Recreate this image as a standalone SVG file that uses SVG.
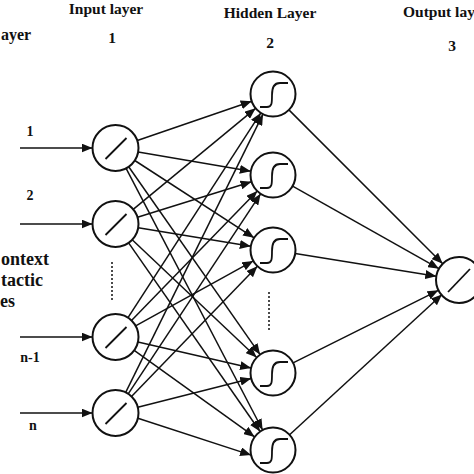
<svg xmlns="http://www.w3.org/2000/svg" width="474" height="474" viewBox="0 0 474 474">
<style>
text{font-family:"Liberation Serif","Times New Roman",serif;font-weight:bold;fill:#111}
.h{font-size:15.5px}
.lab{font-size:14px}
.ctx{font-size:18px}
.node circle{fill:#fff;stroke:#111;stroke-width:2}
.sym{fill:none;stroke:#111;stroke-width:1.8}
.c line{stroke:#111;stroke-width:1.5}
.dot{stroke:#111;stroke-width:1.5;stroke-dasharray:2,2}
</style>
<defs>
<marker id="ah" markerUnits="userSpaceOnUse" markerWidth="11" markerHeight="9" refX="11" refY="4.5" orient="auto">
<path d="M0,0 L11,4.5 L0,9 z" fill="#111"/>
</marker>
</defs>
<g id="headers">
<text class="h" x="1" y="40" style="font-size:16px">ayer</text>
<text class="h" x="106" y="14" text-anchor="middle">Input layer</text>
<text class="h" x="112" y="43" text-anchor="middle">1</text>
<text class="h" x="270" y="18" text-anchor="middle">Hidden Layer</text>
<text class="h" x="270" y="48" text-anchor="middle">2</text>
<text class="h" x="403" y="17">Output lay</text>
<text class="h" x="452" y="51" text-anchor="middle">3</text>
</g>
<g id="input-labels">
<text class="lab" x="30" y="136" text-anchor="middle">1</text>
<text class="lab" x="30" y="200" text-anchor="middle">2</text>
<text class="lab" x="30" y="362" text-anchor="middle">n-1</text>
<text class="lab" x="33" y="430" text-anchor="middle">n</text>
<text class="ctx" x="1" y="265">ontext</text>
<text class="ctx" x="1" y="286">tactic</text>
<text class="ctx" x="0" y="307">es</text>
</g>
<g id="connectors" class="c">
<line x1="20" y1="148" x2="92.5" y2="148" marker-end="url(#ah)"/>
<line x1="20" y1="224" x2="92.5" y2="224" marker-end="url(#ah)"/>
<line x1="20" y1="337" x2="92.5" y2="337" marker-end="url(#ah)"/>
<line x1="20" y1="413" x2="92.5" y2="413" marker-end="url(#ah)"/>

<line x1="137.3" y1="140.5" x2="251.7" y2="101.3" marker-end="url(#ah)"/>
<line x1="138.2" y1="151.9" x2="250.8" y2="171.2" marker-end="url(#ah)"/>
<line x1="134.8" y1="160.5" x2="254.1" y2="237.8" marker-end="url(#ah)"/>
<line x1="128.7" y1="166.8" x2="260.1" y2="354.6" marker-end="url(#ah)"/>
<line x1="126.1" y1="168.4" x2="262.6" y2="430.0" marker-end="url(#ah)"/>

<line x1="133.2" y1="209.4" x2="255.6" y2="108.3" marker-end="url(#ah)"/>
<line x1="137.5" y1="217.2" x2="251.5" y2="181.7" marker-end="url(#ah)"/>
<line x1="138.2" y1="227.7" x2="250.8" y2="246.3" marker-end="url(#ah)"/>
<line x1="132.2" y1="239.8" x2="256.7" y2="357.5" marker-end="url(#ah)"/>
<line x1="128.6" y1="242.9" x2="260.1" y2="431.5" marker-end="url(#ah)"/>

<line x1="128.0" y1="317.7" x2="260.8" y2="112.9" marker-end="url(#ah)"/>
<line x1="131.5" y1="320.5" x2="257.3" y2="191.1" marker-end="url(#ah)"/>
<line x1="135.6" y1="325.9" x2="253.3" y2="260.9" marker-end="url(#ah)"/>
<line x1="137.9" y1="342.1" x2="251.1" y2="368.0" marker-end="url(#ah)"/>
<line x1="134.2" y1="350.4" x2="254.7" y2="436.9" marker-end="url(#ah)"/>

<line x1="125.7" y1="392.4" x2="263.0" y2="114.2" marker-end="url(#ah)"/>
<line x1="128.2" y1="393.8" x2="260.6" y2="193.8" marker-end="url(#ah)"/>
<line x1="131.5" y1="396.5" x2="257.4" y2="266.2" marker-end="url(#ah)"/>
<line x1="137.8" y1="407.3" x2="251.2" y2="378.5" marker-end="url(#ah)"/>
<line x1="137.9" y1="418.3" x2="251.1" y2="455.1" marker-end="url(#ah)"/>

<line x1="288.9" y1="109.9" x2="442.7" y2="263.7" marker-end="url(#ah)"/>
<line x1="292.6" y1="186.1" x2="439.0" y2="268.7" marker-end="url(#ah)"/>
<line x1="295.2" y1="253.6" x2="436.3" y2="276.3" marker-end="url(#ah)"/>
<line x1="293.1" y1="362.9" x2="438.4" y2="290.3" marker-end="url(#ah)"/>
<line x1="289.6" y1="434.8" x2="442.0" y2="294.5" marker-end="url(#ah)"/>
</g>
<g id="ellipses">
<line class="dot" x1="112" y1="262" x2="112" y2="300"/>
<line class="dot" x1="269" y1="292" x2="269" y2="331"/>
</g>
<g id="in1" class="node" transform="translate(115.5,148)"><circle r="23"/><path class="sym" d="M-10,11 L11,-10"/></g>
<g id="in2" class="node" transform="translate(115.5,224)"><circle r="23"/><path class="sym" d="M-10,11 L11,-10"/></g>
<g id="in3" class="node" transform="translate(115.5,337)"><circle r="23"/><path class="sym" d="M-10,11 L11,-10"/></g>
<g id="in4" class="node" transform="translate(115.5,413)"><circle r="23"/><path class="sym" d="M-10,11 L11,-10"/></g>
<g id="hid1" class="node" transform="translate(273,94)"><circle r="22.5"/><path class="sym" d="M-13,13 L-6,13 C-1,13 -1,9 -1,1 C-1,-7 1,-11 7,-11 L15,-11"/></g>
<g id="hid2" class="node" transform="translate(273,175)"><circle r="22.5"/><path class="sym" d="M-13,13 L-6,13 C-1,13 -1,9 -1,1 C-1,-7 1,-11 7,-11 L15,-11"/></g>
<g id="hid3" class="node" transform="translate(273,250)"><circle r="22.5"/><path class="sym" d="M-13,13 L-6,13 C-1,13 -1,9 -1,1 C-1,-7 1,-11 7,-11 L15,-11"/></g>
<g id="hid4" class="node" transform="translate(273,373)"><circle r="22.5"/><path class="sym" d="M-13,13 L-6,13 C-1,13 -1,9 -1,1 C-1,-7 1,-11 7,-11 L15,-11"/></g>
<g id="hid5" class="node" transform="translate(273,450)"><circle r="22.5"/><path class="sym" d="M-13,13 L-6,13 C-1,13 -1,9 -1,1 C-1,-7 1,-11 7,-11 L15,-11"/></g>
<g id="out1" class="node" transform="translate(459,280)"><circle r="23"/><path class="sym" d="M-11,12 L11,-11"/></g>
</svg>
